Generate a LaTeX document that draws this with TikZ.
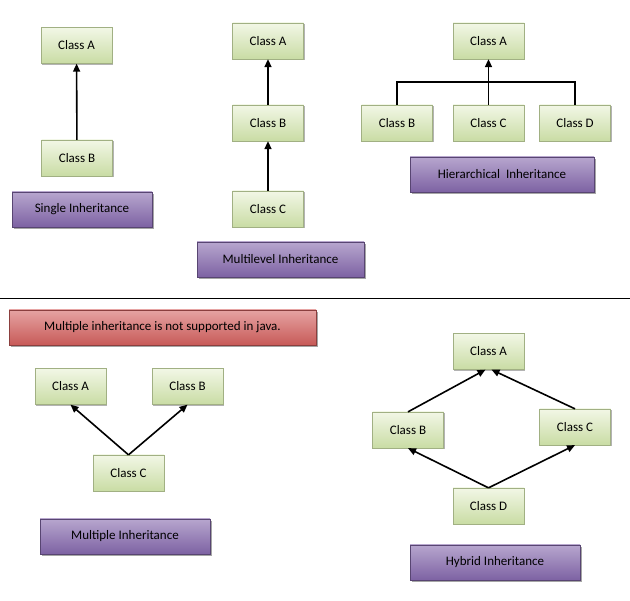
\documentclass[tikz,border=0pt]{standalone}
\usepackage{fontspec}
\setmainfont{Carlito}
\usetikzlibrary{arrows.meta,shadows}
\definecolor{gtop}{HTML}{F2F7E6}
\definecolor{gbot}{HTML}{C9DCA4}
\definecolor{ptop}{HTML}{B7A6CE}
\definecolor{pbot}{HTML}{7D62A3}
\definecolor{rtop}{HTML}{E6A3A2}
\definecolor{rbot}{HTML}{C75A58}
\tikzset{
 cls/.style={draw=gbot!80!black,line width=0.3pt,top color=gtop,bottom color=gbot,minimum width=71pt,minimum height=36pt,font=\fontsize{13}{15}\selectfont,drop shadow={shadow xshift=1pt,shadow yshift=-1.5pt,opacity=0.6}},
 lab/.style={draw=pbot!70!black,line width=0.4pt,top color=ptop,bottom color=pbot,minimum height=35pt,font=\fontsize{13}{15}\selectfont,text=black,drop shadow={shadow xshift=1.5pt,shadow yshift=-2pt,opacity=0.7}},
 warn/.style={draw=rbot!70!black,line width=0.4pt,top color=rtop,bottom color=rbot,minimum height=35pt,font=\fontsize{13}{15}\selectfont,drop shadow={shadow xshift=1.5pt,shadow yshift=-2pt,opacity=0.7}},
 arr/.style={-{Triangle[length=8pt,width=7pt]},line width=1.6pt},
 ln/.style={line width=1.6pt}
}
\begin{document}
\begin{tikzpicture}[x=1pt,y=-1pt]
\useasboundingbox (0,0) rectangle (630,601);
% single
\node[cls] (sa) at (76.5,45.5) {Class A};
\node[cls] (sb) at (77,158) {Class B};
\node[lab,minimum width=140pt] (sl) at (82,209.5) {Single Inheritance};
\draw[arr] (sb) -- (sa);
% multilevel
\node[cls] (ma) at (268,41) {Class A};
\node[cls] (mb) at (268,123) {Class B};
\node[cls] (mc) at (268,209) {Class C};
\node[lab,minimum width=167pt] (ml) at (280.5,259.5) {Multilevel Inheritance};
\draw[arr] (mb) -- (ma);
\draw[arr] (mc) -- (mb);
% hierarchical
\node[cls] (ha) at (488.5,41) {Class A};
\node[cls] (hb) at (397,123) {Class B};
\node[cls] (hc) at (488.5,123) {Class C};
\node[cls] (hd) at (575,123) {Class D};
\node[lab,minimum width=184pt] (hl) at (502,174.5) {Hierarchical\ \ Inheritance};
\coordinate (hj) at (488.5,82);
\draw[ln] (hb.north) |- (hj) -| (hd.north);
\draw[arr] (hc) -- (ha);
% separator
\coordinate (s1) at (0,298);
\coordinate (s2) at (630,298);
\draw[line width=0.6pt] (s1) -- (s2);
% multiple
\node[warn,minimum width=307pt] (warn) at (162.5,327.5) {Multiple inheritance is not supported in java.};
\node[cls] (pa) at (70.5,386.5) {Class A};
\node[cls] (pb) at (187.5,386.5) {Class B};
\node[cls] (pc) at (128.5,473) {Class C};
\node[lab,minimum width=170pt] (pl) at (125,536.5) {Multiple Inheritance};
\draw[arr] (pc.north) -- (pa.south);
\draw[arr] (pc.north) -- (pb.south);
% hybrid
\node[cls] (ya) at (488.5,351.5) {Class A};
\node[cls] (yb) at (408,430) {Class B};
\node[cls] (yc) at (575,427) {Class C};
\node[cls] (yd) at (488.5,506) {Class D};
\node[lab,minimum width=170pt] (yl) at (495,562.5) {Hybrid Inheritance};
\draw[arr] (yb.north) -- ([xshift=-3pt]ya.south);
\draw[arr] (yc.north) -- ([xshift=3pt]ya.south);
\draw[arr] (yd.north) -- (yb.south);
\draw[arr] (yd.north) -- (yc.south);
\end{tikzpicture}
\end{document}
